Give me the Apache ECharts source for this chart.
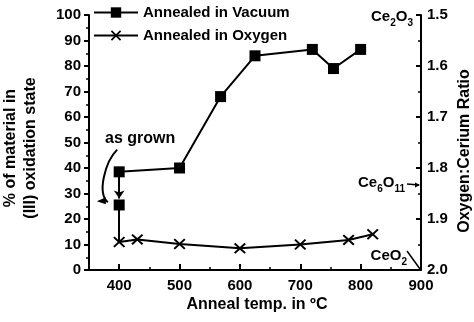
<!DOCTYPE html>
<html><head><meta charset="utf-8">
<script src="https://cdn.jsdelivr.net/npm/echarts@6/dist/echarts.min.js"></script>
<style>html,body{margin:0;padding:0;background:#fff}#c{width:474px;height:322px}</style>
</head><body><div id="c"></div>
<script>
// ---- data ----
const vacuumTemp = [400, 500, 568, 625, 720, 755, 800];
const vacuumPct  = [38.5, 40, 68, 84, 86.5, 79, 86.5];
const oxygenTemp = [400, 430, 500, 600, 700, 780, 820];
const oxygenPct  = [11, 12, 10.2, 8.5, 10, 11.8, 14];
const asGrownTemp = [400];
const asGrownPct  = [25.5];
const xTickLabels = [400, 500, 600, 700, 800, 900];
const xMinorTicks = [450, 550, 650, 750, 850];
const phaseNames  = ['Ce2O3', 'Ce6O11', 'CeO2'];
const phaseRatios = [1.5, 11/6, 2.0];

const FONT = "'Liberation Sans', Arial, sans-serif";
const X_PATH = 'path://M0,1.2L1.2,0L5,3.8L8.8,0L10,1.2L6.2,5L10,8.8L8.8,10L5,6.2L1.2,10L0,8.8L3.8,5Z';

const chart = echarts.init(document.getElementById('c'), null, {renderer: 'canvas'});
const black = '#000';
const axisLine = {show: true, onZero: false, lineStyle: {color: black, width: 2}};

const option = {
  animation: false,
  backgroundColor: '#fff',
  textStyle: {fontFamily: FONT},
  grid: {left: 89, right: 53, top: 15, bottom: 52},
  legend: {
    data: ['Annealed in Vacuum', 'Annealed in Oxygen'],
    orient: 'vertical', left: 88, top: 0,
    itemWidth: 44, itemHeight: 13, itemGap: 8,
    textStyle: {fontFamily: FONT, fontWeight: 'bold', fontSize: 15, color: black},
    selectedMode: false
  },
  xAxis: [{
    type: 'value', min: 350, max: 900, interval: 50,
    axisLine: axisLine,
    axisTick: {inside: true, length: 6, lineStyle: {color: black, width: 2}, customValues: xTickLabels},
    axisLabel: {customValues: xTickLabels, margin: 8, color: black, fontFamily: FONT, fontWeight: 'bold', fontSize: 15},
    splitLine: {show: false}
  }, {
    type: 'value', min: 350, max: 900, interval: 50, position: 'bottom',
    axisLine: {show: false},
    axisTick: {inside: true, length: 3, lineStyle: {color: black, width: 1.5}, customValues: xMinorTicks},
    axisLabel: {show: false}, splitLine: {show: false}
  }],
  yAxis: [{
    type: 'value', min: 0, max: 100, interval: 10, position: 'left',
    axisLine: axisLine,
    axisTick: {length: 5, lineStyle: {color: black, width: 2}},
    minorTick: {show: true, splitNumber: 2, length: 3, lineStyle: {color: black, width: 1.5}},
    axisLabel: {margin: 8, color: black, fontFamily: FONT, fontWeight: 'bold', fontSize: 15},
    splitLine: {show: false}
  }, {
    type: 'value', min: 1.5, max: 2.0, interval: 0.1, inverse: true, position: 'right',
    axisLine: axisLine,
    axisTick: {inside: true, length: 5, lineStyle: {color: black, width: 2}},
    minorTick: {show: true, splitNumber: 2, length: 3, lineStyle: {color: black, width: 1.5}},
    axisLabel: {margin: 6, color: black, fontFamily: FONT, fontWeight: 'bold', fontSize: 15,
      formatter: v => v.toFixed(1)},
    splitLine: {show: false}
  }],
  series: [{
    name: 'Annealed in Vacuum', type: 'line',
    data: vacuumTemp.map((t, i) => [t, vacuumPct[i]]),
    symbol: 'rect', symbolSize: 11, showAllSymbol: true,
    lineStyle: {color: black, width: 2}, itemStyle: {color: black},
    emphasis: {disabled: true}, z: 3
  }, {
    name: 'Annealed in Oxygen', type: 'line',
    data: oxygenTemp.map((t, i) => [t, oxygenPct[i]]),
    symbol: X_PATH, symbolSize: [12, 11], showAllSymbol: true,
    lineStyle: {color: black, width: 2}, itemStyle: {color: black},
    emphasis: {disabled: true}, z: 3
  }, {
    name: 'as grown', type: 'scatter',
    data: asGrownTemp.map((t, i) => [t, asGrownPct[i]]),
    symbol: 'rect', symbolSize: 11, itemStyle: {color: black, opacity: 1},
    emphasis: {disabled: true}, z: 4,
    markLine: {
      silent: true, animation: false,
      label: {show: false},
      lineStyle: {color: black, width: 2, type: 'solid', opacity: 1},
      emphasis: {disabled: true},
      data: [
        [{coord: [vacuumTemp[0], vacuumPct[0]], symbol: 'none'},
         {coord: [asGrownTemp[0], asGrownPct[0] + 2.5], symbol: 'arrow', symbolSize: [8, 8]}],
        [{coord: [asGrownTemp[0], asGrownPct[0]], symbol: 'none'},
         {coord: [oxygenTemp[0], oxygenPct[0]], symbol: 'none'}]
      ]
    }
  }]
};
chart.setOption(option);

// ---- annotations positioned from the axes ----
const px = (x, y) => chart.convertToPixel({xAxisIndex: 0, yAxisIndex: 0}, [x, y]);
const ry = r => chart.convertToPixel({yAxisIndex: 1}, r);
const rightX = px(900, 0)[0];
const leftX = px(350, 0)[0];
const bottomY = px(350, 0)[1];

const rich = {
  b: {fontFamily: FONT, fontWeight: 'bold', fontSize: 15, lineHeight: 22, verticalAlign: 'middle', fill: black},
  s: {fontFamily: FONT, fontWeight: 'bold', fontSize: 10, lineHeight: 10, verticalAlign: 'bottom', fill: black}
};
const formula = n => n.replace(/([A-Za-z]+)(\d*)/g, (m, a, d) => '{b|' + a + '}' + (d ? '{s|' + d + '}' : ''));

const tipPt = px(363, 27);
const start = px(400, 48);
const graphics = [
  {type: 'text', x: px(400, 0)[0] + 21, y: px(0, 51.5)[1], style: {text: 'as grown', fontFamily: FONT, fontWeight: 'bold', fontSize: 16, fill: black, align: 'center', verticalAlign: 'middle'}},
  {type: 'bezierCurve', shape: {x1: start[0] - 2, y1: start[1] + 2, cpx1: start[0] - 14, cpy1: start[1] + 14, cpx2: tipPt[0] + 0, cpy2: tipPt[1] - 8, x2: tipPt[0] + 11, y2: tipPt[1] + 1},
   style: {stroke: black, lineWidth: 2, fill: null}},
  {type: 'polygon', shape: {points: [[tipPt[0], tipPt[1]], [tipPt[0] + 9, tipPt[1] - 4], [tipPt[0] + 9, tipPt[1] + 3]]}, style: {fill: black}},
  // Ce2O3
  {type: 'text', x: rightX - 8, y: ry(phaseRatios[0]) + 2, style: {text: formula(phaseNames[0]), rich: rich, align: 'right', verticalAlign: 'middle'}},
  // Ce6O11
  {type: 'text', x: rightX - 16, y: ry(phaseRatios[1]) - 2, style: {text: formula(phaseNames[1]), rich: rich, align: 'right', verticalAlign: 'middle'}},
  {type: 'line', shape: {x1: rightX - 14, y1: ry(phaseRatios[1]) - 1, x2: rightX - 2, y2: ry(phaseRatios[1])}, style: {stroke: black, lineWidth: 1.5}},
  {type: 'polygon', shape: {points: [[rightX - 1, ry(phaseRatios[1])], [rightX - 6, ry(phaseRatios[1]) - 2.5], [rightX - 6, ry(phaseRatios[1]) + 2.5]]}, style: {fill: black}},
  // CeO2
  {type: 'text', x: rightX - 14, y: ry(phaseRatios[2]) - 14, style: {text: formula(phaseNames[2]), rich: rich, align: 'right', verticalAlign: 'middle'}},
  {type: 'line', shape: {x1: rightX - 14, y1: ry(phaseRatios[2]) - 19, x2: rightX - 1, y2: ry(phaseRatios[2]) - 1}, style: {stroke: black, lineWidth: 1.5}},
  // axis titles
  {type: 'text', x: (leftX + rightX) / 2 + 2, y: bottomY + 35, style: {text: 'Anneal temp. in ºC', fontFamily: FONT, fontWeight: 'bold', fontSize: 16, fill: black, align: 'center', verticalAlign: 'middle'}},
  {type: 'text', x: 21, y: 148, rotation: Math.PI / 2, style: {text: '% of material in\n(III) oxidation state', fontFamily: FONT, fontWeight: 'bold', fontSize: 16, lineHeight: 20, fill: black, align: 'center', verticalAlign: 'middle'}},
  {type: 'text', x: 465, y: 151, rotation: Math.PI / 2, style: {text: 'Oxygen:Cerium Ratio', fontFamily: FONT, fontWeight: 'bold', fontSize: 16, fill: black, align: 'center', verticalAlign: 'middle'}}
];
chart.setOption({graphic: graphics});
</script>
</body></html>
